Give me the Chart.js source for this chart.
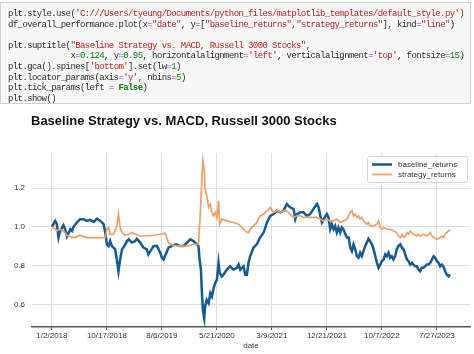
<!DOCTYPE html>
<html><head><meta charset="utf-8">
<script src="https://cdn.jsdelivr.net/npm/chart.js@4.4.1/dist/chart.umd.min.js"></script>
<style>
html,body{margin:0;padding:0;background:#fff;width:474px;height:354px;overflow:hidden;}
#code{position:absolute;left:0;top:2px;width:471px;height:102px;background:#f7f7f7;border:1px solid #cfcfcf;box-sizing:border-box;}
#code pre{margin:0;position:absolute;left:7px;top:6px;font-family:"Liberation Mono","DejaVu Sans Mono",monospace;font-size:9px;letter-spacing:-0.6px;line-height:10.6px;color:#2a2a2a;}
.s{color:#ba2121}.n{color:#008000}.o{color:#aa22ff}.k{color:#008000;font-weight:bold}
#title{position:absolute;left:31px;top:113px;font-family:"Liberation Sans",Arial,sans-serif;font-weight:bold;font-size:13px;color:#111;white-space:nowrap;}
#c{position:absolute;left:0;top:0;}
</style></head><body>
<canvas id="c" width="474" height="354"></canvas>
<div id="code"><pre>plt.style.use(<span class="s">'C:///Users/tyeung/Documents/python_files/matplotlib_templates/default_style.py'</span>)
df_overall_performance.plot(x<span class="o">=</span><span class="s">"date"</span>, y<span class="o">=</span>[<span class="s">"baseline_returns"</span>,<span class="s">"strategy_returns"</span>], kind<span class="o">=</span><span class="s">"line"</span>)

plt.suptitle(<span class="s">"Baseline Strategy vs. MACD, Russell 3000 Stocks"</span>,
             x<span class="o">=</span><span class="n">0.124</span>, y<span class="o">=</span><span class="n">0.95</span>, horizontalalignment<span class="o">=</span><span class="s">'left'</span>, verticalalignment<span class="o">=</span><span class="s">'top'</span>, fontsize<span class="o">=</span><span class="n">15</span>)
plt.gca().spines[<span class="s">'bottom'</span>].set(lw<span class="o">=</span><span class="n">1</span>)
plt.locator_params(axis<span class="o">=</span><span class="s">'y'</span>, nbins<span class="o">=</span><span class="n">5</span>)
plt.tick_params(left <span class="o">=</span> <span class="k">False</span>)
plt.show()</pre></div>
<div id="title">Baseline Strategy vs. MACD, Russell 3000 Stocks</div>
<script>
// ---- data (row index of the date column -> value) ----
const tickLabels = ["1/2/2018","10/17/2018","8/6/2019","5/21/2020","3/9/2021","12/21/2021","10/7/2022","7/27/2023"];
const tickRows = [0,200,400,600,800,1000,1200,1400];
const yTicks = [0.6,0.8,1.0,1.2];
const seriesNames = ["baseline_returns","strategy_returns"];

const baselineRows = [0,12,18,24,30,42,48,55,67,73,79,91,103,115,127,139,152,164,176,188,194,200,206,212,218,230,236,242,248,255,267,273,279,291,303,309,321,333,345,351,358,370,382,394,400,406,412,424,440,452,466,479,491,503,515,527,533,537,542,545,549,554,557,563,570,576,582,588,594,600,606,610,618,624,636,648,660,673,679,685,697,703,709,715,721,733,745,757,770,782,794,806,818,830,842,854,866,879,885,891,903,915,927,939,951,964,970,976,982,988,1000,1006,1012,1018,1024,1030,1036,1042,1048,1054,1060,1067,1073,1079,1085,1091,1097,1103,1109,1115,1121,1127,1133,1139,1145,1151,1157,1164,1170,1176,1182,1188,1194,1200,1206,1212,1218,1224,1230,1236,1242,1248,1254,1260,1267,1273,1279,1285,1291,1297,1303,1309,1315,1321,1327,1333,1339,1345,1351,1357,1363,1370,1376,1382,1388,1394,1400,1406,1412,1418,1424,1430,1436,1442,1448];
const baselineValues = [1.000,1.031,1.014,0.945,0.979,1.009,0.988,0.950,0.988,0.979,1.002,1.023,1.040,1.040,1.031,1.036,1.026,1.043,1.031,1.014,0.971,0.910,0.901,0.927,0.901,0.884,0.832,0.771,0.832,0.884,0.910,0.927,0.936,0.919,0.927,0.939,0.919,0.893,0.884,0.858,0.875,0.901,0.901,0.867,0.841,0.832,0.853,0.893,0.905,0.910,0.901,0.901,0.919,0.936,0.927,0.910,0.901,0.832,0.780,0.676,0.572,0.529,0.589,0.624,0.607,0.659,0.641,0.685,0.711,0.728,0.815,0.763,0.745,0.754,0.780,0.797,0.780,0.789,0.806,0.780,0.797,0.754,0.754,0.815,0.849,0.893,0.910,0.945,0.971,1.023,1.057,1.066,1.083,1.075,1.083,1.118,1.101,1.092,1.040,1.066,1.075,1.075,1.057,1.066,1.092,1.118,1.101,1.057,1.023,1.040,1.066,1.049,0.988,1.014,0.988,1.005,0.971,0.997,0.971,0.997,0.988,0.962,0.945,0.945,0.893,0.875,0.910,0.884,0.849,0.841,0.867,0.849,0.875,0.901,0.919,0.939,0.927,0.910,0.884,0.849,0.815,0.789,0.806,0.823,0.832,0.858,0.849,0.867,0.841,0.849,0.832,0.849,0.884,0.901,0.910,0.893,0.884,0.858,0.832,0.823,0.806,0.815,0.806,0.797,0.797,0.780,0.771,0.789,0.789,0.797,0.806,0.806,0.815,0.832,0.849,0.841,0.823,0.815,0.797,0.806,0.797,0.771,0.754,0.745,0.754];

const strategyRows = [0,12,18,30,42,55,67,79,91,103,115,127,152,176,194,200,206,212,224,236,242,248,255,267,279,291,303,321,345,370,394,412,424,440,452,466,491,515,533,539,545,549,554,557,563,570,576,582,588,594,600,606,610,618,636,660,679,691,703,715,721,733,745,757,770,782,794,806,818,830,842,854,866,879,891,903,915,927,939,951,964,976,988,1000,1012,1024,1036,1048,1060,1073,1085,1091,1097,1103,1109,1115,1121,1127,1133,1139,1145,1151,1157,1170,1182,1188,1194,1200,1206,1218,1230,1242,1254,1260,1267,1273,1279,1285,1291,1297,1303,1315,1327,1333,1339,1351,1363,1370,1376,1382,1388,1400,1412,1418,1424,1430,1436,1442,1448];
const strategyValues = [1.000,0.991,0.979,0.988,0.979,0.957,0.950,0.945,0.950,0.957,0.950,0.945,0.945,0.945,0.945,0.988,0.997,0.962,0.962,1.005,1.066,0.997,0.971,0.957,0.962,0.971,0.962,0.953,0.953,0.957,0.962,0.967,0.919,0.905,0.903,0.901,0.901,0.910,0.910,1.057,1.230,1.343,1.300,1.196,1.161,1.101,1.118,1.075,1.057,1.075,1.049,1.135,1.014,1.040,1.031,1.023,1.014,0.997,0.979,0.971,0.988,1.005,1.023,1.057,1.066,1.083,1.101,1.075,1.083,1.075,1.083,1.083,1.066,1.049,1.057,1.057,1.049,1.049,1.049,1.049,1.049,1.040,1.031,1.040,1.031,1.031,1.040,1.023,1.031,1.040,1.075,1.083,1.057,1.066,1.049,1.057,1.040,1.049,1.031,1.023,1.014,1.023,1.005,1.005,1.014,1.031,0.997,0.988,0.997,0.988,0.988,0.979,0.971,0.953,0.945,0.962,0.945,0.953,0.971,0.962,0.979,0.962,0.953,0.962,0.953,0.962,0.953,0.962,0.971,0.953,0.945,0.936,0.945,0.953,0.945,0.962,0.971,0.979,0.988];

const BLUE = "#155a92";
const ORANGE = "#eca068";

const toPoints = (rows, vals) => rows.map((r, i) => ({x: r, y: vals[i]}));

const legendPlugin = {
  id: "boxLegend",
  afterDraw(chart) {
    const ctx = chart.ctx;
    const a = chart.chartArea;
    const w = 100, h = 26;
    const x0 = a.right - 3 - w, y0 = a.top + 3;
    ctx.save();
    ctx.fillStyle = "rgba(255,255,255,0.85)";
    ctx.strokeStyle = "#d6d6d6";
    ctx.lineWidth = 1;
    ctx.beginPath();
    ctx.roundRect(x0 + 0.5, y0 + 0.5, w, h, 2);
    ctx.fill(); ctx.stroke();
    ctx.font = "8px 'Liberation Sans', Arial, sans-serif";
    ctx.textBaseline = "middle";
    chart.data.datasets.forEach((ds, i) => {
      const yy = y0 + 8.5 + i * 10;
      ctx.strokeStyle = ds.borderColor;
      ctx.lineWidth = ds.borderWidth;
      ctx.beginPath(); ctx.moveTo(x0 + 5, yy); ctx.lineTo(x0 + 25, yy); ctx.stroke();
      ctx.fillStyle = "#333";
      ctx.fillText(ds.label, x0 + 31, yy);
    });
    ctx.restore();
  }
};

new Chart(document.getElementById("c"), {
  type: "line",
  data: {
    datasets: [
      {label: seriesNames[0], data: toPoints(baselineRows, baselineValues), borderColor: BLUE, borderWidth: 2.5, pointRadius: 0, tension: 0, order: 1},
      {label: seriesNames[1], data: toPoints(strategyRows, strategyValues), borderColor: ORANGE, borderWidth: 1.7, pointRadius: 0, tension: 0, order: 0}
    ]
  },
  options: {
    responsive: false,
    animation: false,
    layout: {padding: {left: 0, right: 4, top: 153, bottom: 0}},
    plugins: {legend: {display: false}, tooltip: {enabled: false}, title: {display: false}},
    scales: {
      x: {
        type: "linear",
        min: -72.4, max: 1520.4,
        afterBuildTicks: s => { s.ticks = tickRows.map(v => ({value: v})); },
        afterFit: s => { s.height = 27; },
        ticks: {
          callback: v => { const k = tickRows.indexOf(v); return k >= 0 ? tickLabels[k] : ""; },
          font: {family: "'Liberation Sans', Arial, sans-serif", size: 8},
          color: "#333", maxRotation: 0, autoSkip: false, padding: 1
        },
        grid: {color: "#dedede", lineWidth: 1, drawTicks: true, tickLength: 3, tickColor: "#555"},
        border: {display: true, color: "#555", width: 1.5},
        title: {display: true, text: "date", font: {family: "'Liberation Sans', Arial, sans-serif", size: 8}, color: "#333", padding: {top: 0, bottom: 3.5}}
      },
      y: {
        type: "linear",
        min: 0.484, max: 1.381,
        afterBuildTicks: s => { s.ticks = yTicks.map(v => ({value: v})); },
        afterFit: s => { s.width = 32; },
        ticks: {
          callback: v => v.toFixed(1),
          font: {family: "'Liberation Sans', Arial, sans-serif", size: 8},
          color: "#333", padding: 7
        },
        grid: {color: "#dedede", lineWidth: 1, drawTicks: false},
        border: {display: false}
      }
    }
  },
  plugins: [legendPlugin]
});
</script>
</body></html>
